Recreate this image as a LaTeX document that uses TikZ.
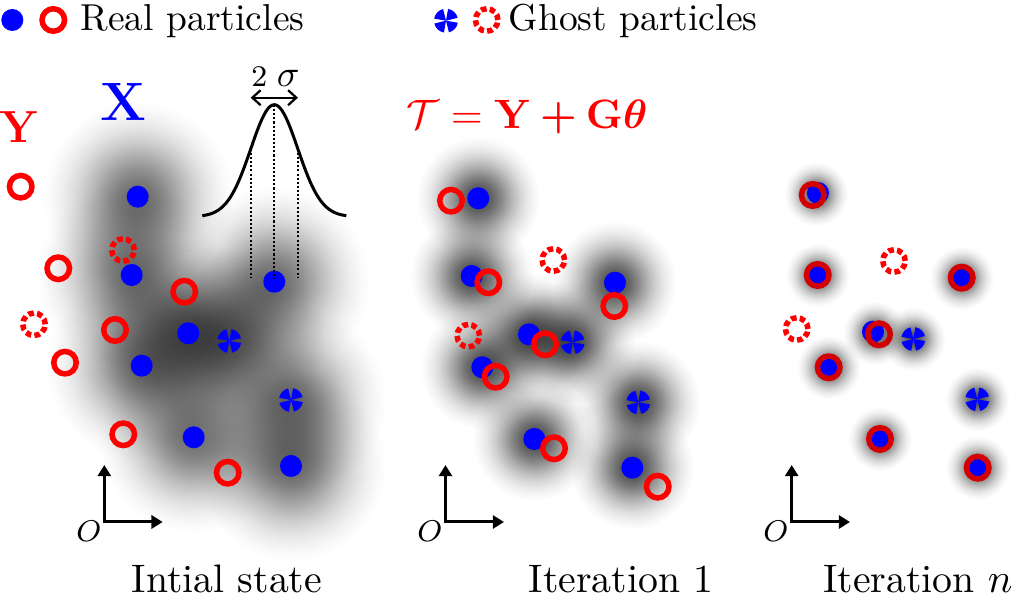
\documentclass[tikz,border=0pt]{standalone}
\usepackage{amsmath}
\usetikzlibrary{arrows.meta,fadings}
\definecolor{darkred}{RGB}{210,0,0}
\pgfdeclareradialshading{gaussshade}{\pgfpointorigin}{rgb(0bp)=(1,1,1); rgb(2.5bp)=(0.97,0.97,0.97); rgb(5bp)=(0.885,0.885,0.885); rgb(7.5bp)=(0.759,0.759,0.759); rgb(10bp)=(0.611,0.611,0.611); rgb(12.5bp)=(0.46,0.46,0.46); rgb(15bp)=(0.322,0.322,0.322); rgb(17.5bp)=(0.206,0.206,0.206); rgb(20bp)=(0.115,0.115,0.115); rgb(22.5bp)=(0.048,0.048,0.048); rgb(25bp)=(0,0,0); rgb(50bp)=(0,0,0)}
\pgfdeclarefading{gaussfade}{\pgfuseshading{gaussshade}}
\newcommand\mkblob[3]{\fill[black, fill opacity=#3, path fading=gaussfade] (#1) circle[radius=#2];}
\tikzset{pics/ghostx/.style={code={
  \foreach \a in {10,100,190,280}{\fill[blue] (0,0) -- (\a:12) arc[start angle=\a, end angle=\a+66, radius=12] -- cycle;}
}}}
\begin{document}
\begin{tikzpicture}[x=0.2667pt,y=-0.2667pt,
  dot/.style={circle, fill=blue, inner sep=0pt, minimum size=5.87pt},
  ring/.style={circle, draw=red, line width=1.47pt, inner sep=0pt, minimum size=6pt},
  dring/.style={ring, dash pattern=on 1.5pt off 0.86pt},
  ringd/.style={ring, draw=darkred},
  axis/.style={line width=0.8pt, {Triangle[length=3pt,width=3.5pt]}-{Triangle[length=3pt,width=3.5pt]}},
  lab/.style={inner sep=0pt},
  captext/.style={inner sep=0pt, anchor=base, font=\fontsize{10.6}{12}\selectfont},
  guide/.style={line width=0.55pt, dash pattern=on 0.55pt off 0.55pt}]
\useasboundingbox (0,0) rectangle (1025,601);
% ---- gaussian blobs
\foreach \p in {{137.7,196.7},{131.7,275},{274.3,281.7},{188.3,333.3},{141.7,365.7},{193.7,437.3},{291,466},{229.3,341},{291,400}}{\mkblob{\p}{95}{0.56}}
\foreach \p in {{478.3,198.3},{471.7,276},{615,282.7},{529,334.3},{482.3,367.3},{534.3,439},{632.3,467.7},{572.7,342.3},{638.3,402.3}}{\mkblob{\p}{62}{0.7}}
\foreach \p in {{816,194},{817.7,275},{961.7,278},{875,333},{828.7,367.3},{880,439},{977.7,467.7},{913.3,339},{977.3,399.3}}{\mkblob{\p}{32}{0.7}}
% ---- bell curve
\draw[line width=0.8pt] plot[domain=-72:72, samples=73, smooth] ({274.3+\x},{216.7-112*exp(-(\x*\x)/1104.5)});
% ---- legend
\node[dot] (lb) at (12.3,20) {};
\node[ring] (lr) at (53.3,20) {};
\node[lab, anchor=base west] (lreal) at (80,30.5) {Real particles};
\pic (lg) at (446,20.7) {ghostx};
\node[dring] (ld) at (486.7,20) {};
\node[lab, anchor=base west] (lghost) at (508,30.5) {Ghost particles};
% ---- labels
\node[lab, text=red, font=\large] (Ylab) at (19,127) {$\mathbf{Y}$};
\node[lab, text=blue, font=\Large] (Xlab) at (123,101.5) {$\mathbf{X}$};
\node[lab, text=red, font=\fontsize{11.4}{13}\selectfont] (Tlab) at (527,117) {$\mathcal{T}=\mathbf{Y}\boldsymbol{+}\mathbf{G}\boldsymbol{\theta}$};
\node[lab, anchor=base west] (sig) at (250.5,86.7) {\fontsize{8.3}{10}\selectfont$2$\hspace{2.6pt}\fontsize{10}{12}\selectfont$\sigma$};
\coordinate (sl) at (250.7,97.7);
\coordinate (sr) at (298,97.7);
\draw[line width=0.6pt, {Straight Barb[length=2.2pt,width=4pt]}-{Straight Barb[length=2.2pt,width=4pt]}] (sl) -- (sr);
% ---- initial state
\node[dot] (a1) at (137.7,196.7) {};
\node[dot] (a2) at (131.7,275) {};
\node[dot] (a3) at (274.3,281.7) {};
\node[dot] (a4) at (188.3,333.3) {};
\node[dot] (a5) at (141.7,365.7) {};
\node[dot] (a6) at (193.7,437.3) {};
\node[dot] (a7) at (291,466) {};
\pic (ag1) at (229.3,341) {ghostx};
\pic (ag2) at (291,400) {ghostx};
\node[ring] (r1) at (20.7,186.7) {};
\node[ring] (r2) at (58.3,268.3) {};
\node[ring] (r3) at (184.3,291.7) {};
\node[ring] (r4) at (115,330) {};
\node[ring] (r5) at (65,362.7) {};
\node[ring] (r6) at (123.3,434.3) {};
\node[ring] (r7) at (227.7,472.7) {};
\node[dring] (rd1) at (123,250) {};
\node[dring] (rd2) at (34,324.3) {};
\coordinate (pk) at (274.3,105);
\coordinate (pl) at (250.7,148.8);
\coordinate (pr) at (297.7,148.8);
\coordinate (ql) at (250.7,278);
\coordinate (qc) at (274.3,279);
\coordinate (qr) at (297.7,278);
\draw[guide] (pl) -- (ql);
\draw[guide] (pk) -- (qc);
\draw[guide] (pr) -- (qr);
% ---- iteration 1
\node[dot] (b1) at (478.3,198.3) {};
\node[dot] (b2) at (471.7,276) {};
\node[dot] (b3) at (615,282.7) {};
\node[dot] (b4) at (529,334.3) {};
\node[dot] (b5) at (482.3,367.3) {};
\node[dot] (b6) at (534.3,439) {};
\node[dot] (b7) at (632.3,467.7) {};
\pic (bg1) at (572.7,342.3) {ghostx};
\pic (bg2) at (638.3,402.3) {ghostx};
\node[ring] (s1) at (451,200.7) {};
\node[ring] (s2) at (488.3,282.3) {};
\node[ring] (s3) at (614.3,306) {};
\node[ring] (s4) at (545,344.3) {};
\node[ring] (s5) at (495.7,376.7) {};
\node[ring] (s6) at (554,448.3) {};
\node[ring] (s7) at (657.7,486.7) {};
\node[dring] (sd1) at (553.3,260) {};
\node[dring] (sd2) at (468.3,335.7) {};
% ---- iteration n
\node[dot] (c1) at (818,193) {};
\node[dot] (c2) at (817.7,275) {};
\node[dot] (c3) at (961.7,278.5) {};
\node[dot] (c4) at (873,331.7) {};
\node[dot] (c5) at (828.7,367.3) {};
\node[dot] (c6) at (880,439) {};
\node[dot] (c7) at (977.7,467.7) {};
\pic (cg1) at (913.3,339) {ghostx};
\pic (cg2) at (977.3,399.3) {ghostx};
\node[ringd] (t1) at (812.7,195) {};
\node[ringd] (t2) at (817.7,275) {};
\node[ringd] (t3) at (961.7,277.7) {};
\node[ringd] (t4) at (879,334.3) {};
\node[ringd] (t5) at (828.7,367.3) {};
\node[ringd] (t6) at (880,439) {};
\node[ringd] (t7) at (977.7,467.7) {};
\node[dring] (td1) at (894,261) {};
\node[dring] (td2) at (796.7,329) {};
% ---- axes
\coordinate (o1) at (104.3,522); \coordinate (o1y) at (104.3,465); \coordinate (o1x) at (162.7,522);
\coordinate (o2) at (445.5,522); \coordinate (o2y) at (445.5,465); \coordinate (o2x) at (504,522);
\coordinate (o3) at (791.7,522); \coordinate (o3y) at (791.7,465); \coordinate (o3x) at (850,522);
\draw[axis] (o1y) -- (o1) -- (o1x);
\draw[axis] (o2y) -- (o2) -- (o2x);
\draw[axis] (o3y) -- (o3) -- (o3x);
\node[lab, font=\footnotesize] (O1) at (89,531) {$O$};
\node[lab, font=\footnotesize] (O2) at (430,531) {$O$};
\node[lab, font=\footnotesize] (O3) at (776,531) {$O$};
% ---- captions
\node[captext] (cap1) at (227,593) {Intial state};
\node[captext] (cap2) at (621,593) {Iteration 1};
\node[captext] (cap3) at (918,593) {Iteration $n$};
\end{tikzpicture}
\end{document}
